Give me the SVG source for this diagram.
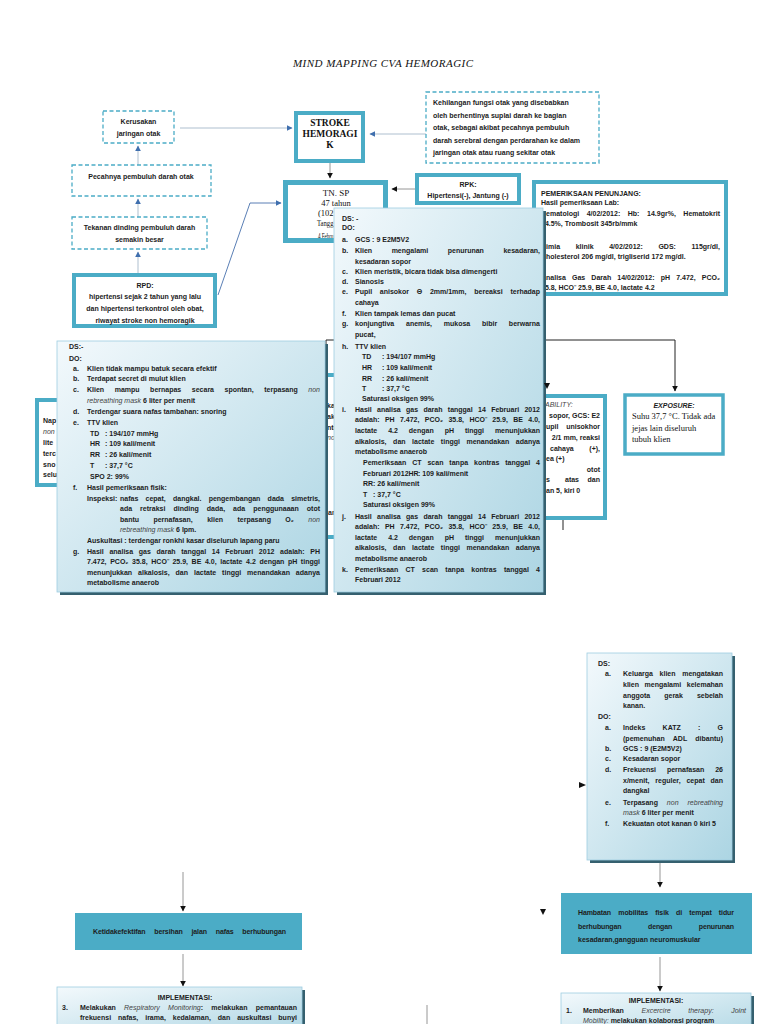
<svg xmlns="http://www.w3.org/2000/svg" width="768" height="1024" viewBox="0 0 768 1024">
<defs>
<linearGradient id="g" x1="0" y1="0" x2="1" y2="1"><stop offset="0" stop-color="#f3f9fc"/><stop offset="1" stop-color="#acd5e3"/></linearGradient>
<marker id="ab" viewBox="0 0 10 10" refX="9" refY="5" markerWidth="6" markerHeight="6" markerUnits="userSpaceOnUse" orient="auto"><path d="M0,0 L10,5 L0,10 z" fill="#3f6fae"/></marker>
<marker id="ak" viewBox="0 0 10 10" refX="9" refY="5" markerWidth="6" markerHeight="6" markerUnits="userSpaceOnUse" orient="auto"><path d="M0,0 L10,5 L0,10 z" fill="#111"/></marker>
</defs>
<style>
.t{font-family:"Liberation Sans",Arial,sans-serif;font-size:7px;font-weight:bold;fill:#1c1c1c}
.i{font-style:italic;font-weight:normal;fill:#444}
.sf{font-family:"Liberation Serif","Times New Roman",serif;font-weight:normal;fill:#111}
.b{font-weight:bold}
.c{text-anchor:middle}
.e{text-anchor:end}
.dash{fill:#fff;stroke:#4BACC6;stroke-width:1.3;stroke-dasharray:4 2.5}
.thick{fill:#fff;stroke:#4BACC6;stroke-width:4}
.card{fill:url(#g);stroke:#9fcde0;stroke-width:.8}
.sh{fill:#35606f}
.teal{fill:#4BACC6}
.lb{fill:none;stroke:#aebfcf;stroke-width:1}
.lk{fill:none;stroke:#8a8a8a;stroke-width:.9}
.ld{fill:none;stroke:#222;stroke-width:1}
</style>
<rect width="768" height="1024" fill="#fff"/>
<text x="383" y="67" class="sf c" font-style="italic" font-size="11" textLength="180">MIND MAPPING CVA HEMORAGIC</text>

<g id="connectors">
<path class="lb" d="M180 128 H292" marker-end="url(#ab)"/>
<path class="lb" d="M426 134 H370" marker-end="url(#ab)"/>
<path class="lk" d="M330 163 V178" marker-end="url(#ak)"/>
<path class="lb" d="M138 165 V146" marker-end="url(#ab)"/>
<path class="lb" d="M138 217 V199" marker-end="url(#ab)"/>
<path class="lb" d="M138 273 V252" marker-end="url(#ab)"/>
<path fill="none" stroke="#5a7fb5" stroke-width="1" d="M218 295 L250 203 H281" marker-end="url(#ab)"/>
<path class="lk" d="M415 189 H392" marker-end="url(#ak)"/>
<path class="ld" d="M326 372 V340 H675 V391" marker-end="url(#ak)"/>
<path class="ld" d="M563 492 V530"/>
<path fill="#111" d="M579 782 L586 785 L579 788 z"/>
<path class="lk" d="M660 862 V887" marker-end="url(#ak)"/>
<path class="lk" d="M660 957 V991" marker-end="url(#ak)"/>
<path class="lk" d="M183 872 V911" marker-end="url(#ak)"/>
<path class="lk" d="M183 954 V986" marker-end="url(#ak)"/>
<path fill="#111" d="M540 909 L546 909 L543 915 z"/>
<path class="lk" d="M427 1005 V1024"/>
</g>

<g id="kerusakan">
<rect class="dash" x="103" y="111" width="71" height="32"/>
<text class="t c" x="138.5" y="124" font-size="6.8">Kerusakan</text>
<text class="t c" x="138.5" y="136" font-size="6.8">jaringan otak</text>
</g>

<g id="stroke">
<rect class="thick" x="296" y="113" width="67" height="48"/>
<text class="sf b c" x="330" y="125.5" font-size="9.5">STROKE</text>
<text class="sf b c" x="330" y="136.5" font-size="9.5">HEMORAGI</text>
<text class="sf b c" x="330" y="147.5" font-size="9.5">K</text>
</g>

<g id="definisi">
<rect class="dash" x="426" y="92" width="173" height="71"/>
<text class="t" x="433" y="105">Kehilangan fungsi otak yang disebabkan</text>
<text class="t" x="433" y="117.5">oleh berhentinya suplai darah ke bagian</text>
<text class="t" x="433" y="130">otak, sebagai akibat pecahnya pembuluh</text>
<text class="t" x="433" y="142.5">darah serebral dengan perdarahan ke dalam</text>
<text class="t" x="433" y="155">jaringan otak atau ruang sekitar otak</text>
</g>

<g id="pecahnya">
<rect class="dash" x="72" y="165" width="139" height="31"/>
<text class="t c" x="141" y="179" font-size="6.8">Pecahnya pembuluh darah otak</text>
</g>

<g id="tekanan">
<rect class="dash" x="72" y="217" width="135" height="32"/>
<text class="t c" x="139.5" y="229.5" font-size="6.8">Tekanan dinding pembuluh darah</text>
<text class="t c" x="139.5" y="241.5" font-size="6.8">semakin besar</text>
</g>

<g id="rpd">
<rect class="thick" x="74" y="275" width="141" height="51"/>
<text class="t c" x="145" y="287.5" font-size="6.8">RPD:</text>
<text class="t c" x="145" y="298.5" font-size="6.8">hipertensi sejak 2 tahun yang lalu</text>
<text class="t c" x="145" y="310.5" font-size="6.8">dan hipertensi terkontrol oleh obat,</text>
<text class="t c" x="145" y="322.5" font-size="6.8">riwayat stroke non hemoragik</text>
</g>

<g id="tnsp">
<rect x="285.5" y="182.5" width="100" height="58" fill="#fff"/>
<text class="sf c" x="336" y="196" font-size="9">TN. SP</text>
<text class="sf c" x="336" y="206" font-size="8.5">47 tahun</text>
<text class="sf" x="318" y="216" font-size="8.5">(102</text>
<text class="sf" x="317" y="226" font-size="7.5" textLength="16.5" lengthAdjust="spacingAndGlyphs">Tangg</text>
<text class="sf" x="318" y="238.5" font-size="7.5" textLength="15.5" lengthAdjust="spacingAndGlyphs">4 Febru</text>
<rect x="285.5" y="182.5" width="100" height="58" fill="none" stroke="#4BACC6" stroke-width="5"/>
</g>

<g id="rpk">
<rect class="thick" x="417" y="175" width="102" height="28"/>
<text class="t c" x="468" y="186.5" font-size="6.8">RPK:</text>
<text class="t c" x="468" y="197.5" font-size="6.8">Hipertensi(-), Jantung (-)</text>
</g>

<g id="penunjang">
<rect class="thick" x="534" y="182" width="192" height="112"/>
<text class="t" x="541" y="195.5">PEMERIKSAAN PENUNJANG:</text>
<text class="t" x="541" y="204.5">Hasil pemeriksaan Lab:</text>
<text class="t" x="541" y="215.5" textLength="179" style="word-spacing:5.6px">Hematologi 4/02/2012: Hb: 14.9gr%, Hematokrit</text>
<text class="t" x="541" y="225.5">44.5%, Trombosit 345rb/mmk</text>
<text class="t" x="541" y="248.5" textLength="179" style="word-spacing:13.6px">Kimia klinik 4/02/2012: GDS: 115gr/dl,</text>
<text class="t" x="541" y="258.5">Cholesterol 206 mg/dl, trigliserid 172 mg/dl.</text>
<text class="t" x="541" y="279.5" textLength="179" style="word-spacing:4.2px">Analisa Gas Darah 14/02/2012: pH 7.472, PCO₂</text>
<text class="t" x="541" y="289.5">35.8, HCO⁻ 25.9, BE 4.0, lactate 4.2</text>
</g>

<g id="hidden-left">
<rect class="thick" x="37" y="400" width="120" height="85"/>
<text class="t" x="43" y="423">Nap</text>
<text class="t i" x="43" y="434">non</text>
<text class="t" x="43" y="445">lite</text>
<text class="t" x="43" y="456">terc</text>
<text class="t" x="43" y="466.5">sno</text>
<text class="t" x="43" y="477">selu</text>
</g>

<g id="hidden-mid">
<rect class="thick" x="250" y="375" width="200" height="162"/>
<text class="t" x="327" y="407.5">kal</text>
<text class="t" x="327" y="418.5">aks</text>
<text class="t" x="327" y="429.5">ntr</text>
<text class="t i" x="327" y="439.5">nor</text>
<text class="t" x="328" y="514.5">an p</text>
</g>

<g id="disability">
<rect class="thick" x="452" y="396" width="153" height="122"/>
<text class="t i" x="545" y="406.5">ABILITY:</text>
<text class="t e" x="600" y="417.5">sopor, GCS: E2</text>
<text class="t" x="546" y="428.5">upil</text>
<text class="t e" x="600" y="428.5">unisokhor</text>
<text class="t e" x="600" y="439.5">2/1 mm, reaksi</text>
<text class="t" x="550" y="450.5">cahaya</text>
<text class="t e" x="600" y="450.5">(+),</text>
<text class="t" x="546" y="461">ea (+)</text>
<text class="t e" x="600" y="471.5">otot</text>
<text class="t" x="546" y="482">s</text>
<text class="t" x="565" y="482">atas</text>
<text class="t e" x="600" y="482">dan</text>
<text class="t" x="546" y="493">an 5, kiri 0</text>
</g>

<g id="exposure">
<rect x="625" y="395" width="98" height="59" fill="#fff" stroke="#4BACC6" stroke-width="3.5"/>
<text class="t c" x="674" y="407.5" font-size="9" font-style="italic">EXPOSURE:</text>
<text class="sf" x="632" y="419" font-size="8.5">Suhu 37,7 °C. Tidak ada</text>
<text class="sf" x="632" y="430.5" font-size="8.5">jejas lain diseluruh</text>
<text class="sf" x="632" y="442" font-size="8.5">tubuh klien</text>
</g>

<g id="ds-airway">
<rect class="sh" x="60" y="344" width="268" height="251"/>
<rect class="card" x="57" y="341" width="268" height="251"/>
<text class="t" x="69" y="348.5">DS:-</text>
<text class="t" x="69" y="360.5">DO:</text>
<text class="t" x="73" y="370.5">a.</text><text class="t" x="87" y="370.5">Klien tidak mampu batuk secara efektif</text>
<text class="t" x="73" y="380.5">b.</text><text class="t" x="87" y="380.5">Terdapat secret di mulut klien</text>
<text class="t" x="73" y="391.5">c.</text><text class="t" x="87" y="391.5" textLength="233" style="word-spacing:8.6px">Klien mampu bernapas secara spontan, terpasang <tspan class="i">non</tspan></text>
<text class="t" x="87" y="402.5"><tspan class="i">rebreathing mask</tspan> 6 liter per menit</text>
<text class="t" x="73" y="414">d.</text><text class="t" x="87" y="414">Terdengar suara nafas tambahan: snoring</text>
<text class="t" x="73" y="424.5">e.</text><text class="t" x="87" y="424.5">TTV klien</text>
<text class="t" x="90" y="435.5">TD</text><text class="t" x="105" y="435.5">: 194/107 mmHg</text>
<text class="t" x="90" y="445.5">HR</text><text class="t" x="105" y="445.5">: 109 kali/menit</text>
<text class="t" x="90" y="456.5">RR</text><text class="t" x="105" y="456.5">: 26 kali/menit</text>
<text class="t" x="90" y="467.5">T</text><text class="t" x="105" y="467.5">: 37,7 °C</text>
<text class="t" x="90" y="479">SPO 2: 99%</text>
<text class="t" x="73" y="489.5">f.</text><text class="t" x="87" y="489.5">Hasil pemeriksaan fisik:</text>
<text class="t" x="87" y="500.5">Inspeksi</text><text class="t" x="115" y="500.5">:</text>
<text class="t" x="120" y="500.5" textLength="200" style="word-spacing:5.3px">nafas cepat, dangkal. pengembangan dada simetris,</text>
<text class="t" x="120" y="511" textLength="200" style="word-spacing:6.1px">ada retraksi dinding dada, ada penggunaaan otot</text>
<text class="t" x="120" y="521.5" textLength="200" style="word-spacing:12.5px">bantu pernafasan, klien terpasang O₂ <tspan class="i">non</tspan></text>
<text class="t" x="120" y="532"><tspan class="i">rebreathing mask</tspan> 6 lpm.</text>
<text class="t" x="87" y="542.5">Auskultasi : terdengar ronkhi kasar diseluruh lapang paru</text>
<text class="t" x="73" y="553.5">g.</text><text class="t" x="87" y="553.5" textLength="233" style="word-spacing:3.7px">Hasil analisa gas darah tanggal 14 Februari 2012 adalah: PH</text>
<text class="t" x="87" y="564" textLength="233" style="word-spacing:1.6px">7.472, PCO₂ 35.8, HCO⁻ 25.9, BE 4.0, lactate 4.2 dengan pH tinggi</text>
<text class="t" x="87" y="574.5" textLength="233" style="word-spacing:4px">menunjukkan alkalosis, dan lactate tinggi menandakan adanya</text>
<text class="t" x="87" y="584.5">metabolisme anaerob</text>
</g>

<g id="ds-main">
<rect class="sh" x="337" y="211" width="209" height="384"/>
<rect class="card" x="334" y="208" width="209" height="384"/>
<text class="t" x="342" y="221">DS: -</text>
<text class="t" x="342" y="230">DO:</text>
<text class="t" x="342" y="241.5">a.</text><text class="t" x="355" y="241.5">GCS : 9 E2M5V2</text>
<text class="t" x="342" y="252.5">b.</text><text class="t" x="355" y="252.5" textLength="185" style="word-spacing:17.6px">Klien mengalami penurunan kesadaran,</text>
<text class="t" x="355" y="263.5">kesadaran sopor</text>
<text class="t" x="342" y="273.5">c.</text><text class="t" x="355" y="273.5">Klien meristik, bicara tidak bisa dimengerti</text>
<text class="t" x="342" y="283.5">d.</text><text class="t" x="355" y="283.5">Sianosis</text>
<text class="t" x="342" y="293.5">e.</text><text class="t" x="355" y="293.5" textLength="185" style="word-spacing:5.8px">Pupil anisokor Θ 2mm/1mm, bereaksi terhadap</text>
<text class="t" x="355" y="304.5">cahaya</text>
<text class="t" x="342" y="315.5">f.</text><text class="t" x="355" y="315.5">Klien tampak lemas dan pucat</text>
<text class="t" x="342" y="325.5">g.</text><text class="t" x="355" y="325.5" textLength="185" style="word-spacing:9.8px">konjungtiva anemis, mukosa bibir berwarna</text>
<text class="t" x="355" y="336.5">pucat,</text>
<text class="t" x="342" y="348.5">h.</text><text class="t" x="355" y="348.5">TTV klien</text>
<text class="t" x="362" y="358.5">TD</text><text class="t" x="382" y="358.5">: 194/107 mmHg</text>
<text class="t" x="362" y="369.5">HR</text><text class="t" x="382" y="369.5">: 109 kali/menit</text>
<text class="t" x="362" y="380.5">RR</text><text class="t" x="382" y="380.5">: 26 kali/menit</text>
<text class="t" x="362" y="390.5">T</text><text class="t" x="382" y="390.5">: 37,7 °C</text>
<text class="t" x="362" y="400.5">Saturasi oksigen 99%</text>
<text class="t" x="342" y="411.5">i.</text><text class="t" x="355" y="411.5" textLength="185" style="word-spacing:3.4px">Hasil analisa gas darah tanggal 14 Februari 2012</text>
<text class="t" x="355" y="421.5" textLength="185" style="word-spacing:3.4px">adalah: PH 7.472, PCO₂ 35.8, HCO⁻ 25.9, BE 4.0,</text>
<text class="t" x="355" y="432.5" textLength="185" style="word-spacing:9px">lactate 4.2 dengan pH tinggi menunjukkan</text>
<text class="t" x="355" y="443.5" textLength="185" style="word-spacing:4.6px">alkalosis, dan lactate tinggi menandakan adanya</text>
<text class="t" x="355" y="453.5">metabolisme anaerob</text>
<text class="t" x="363" y="464.5" textLength="177" style="word-spacing:4px">Pemeriksaan CT scan tanpa kontras tanggal 4</text>
<text class="t" x="363" y="475.5">Februari 2012HR</text><text class="t" x="418" y="475.5">: 109 kali/menit</text>
<text class="t" x="363" y="485.5">RR</text><text class="t" x="373" y="485.5">: 26 kali/menit</text>
<text class="t" x="363" y="496.5">T</text><text class="t" x="373" y="496.5">: 37,7 °C</text>
<text class="t" x="363" y="506.5">Saturasi oksigen 99%</text>
<text class="t" x="342" y="518.5">j.</text><text class="t" x="355" y="518.5" textLength="185" style="word-spacing:3.4px">Hasil analisa gas darah tanggal 14 Februari 2012</text>
<text class="t" x="355" y="528.5" textLength="185" style="word-spacing:3.4px">adalah: PH 7.472, PCO₂ 35.8, HCO⁻ 25.9, BE 4.0,</text>
<text class="t" x="355" y="539.5" textLength="185" style="word-spacing:9px">lactate 4.2 dengan pH tinggi menunjukkan</text>
<text class="t" x="355" y="549.5" textLength="185" style="word-spacing:4.6px">alkalosis, dan lactate tinggi menandakan adanya</text>
<text class="t" x="355" y="560.5">metabolisme anaerob</text>
<text class="t" x="342" y="571.5">k.</text><text class="t" x="355" y="571.5" textLength="185" style="word-spacing:5.3px">Pemeriksaan CT scan tanpa kontras tanggal 4</text>
<text class="t" x="355" y="581.5">Februari 2012</text>
</g>
<path fill="#111" d="M544 383 L550 383 L547 389 z"/>

<g id="ds-mobilitas">
<rect class="sh" x="590" y="656" width="145" height="207"/>
<rect class="card" x="587" y="653" width="145" height="207"/>
<text class="t" x="598" y="665.5">DS:</text>
<text class="t" x="605" y="675.5">a.</text><text class="t" x="623" y="675.5" textLength="100" style="word-spacing:4.7px">Keluarga klien mengatakan</text>
<text class="t" x="623" y="686.5" textLength="100" style="word-spacing:3.7px">klien mengalami kelemahan</text>
<text class="t" x="623" y="697.5" textLength="100" style="word-spacing:12px">anggota gerak sebelah</text>
<text class="t" x="623" y="707.5">kanan.</text>
<text class="t" x="598" y="718.5">DO:</text>
<text class="t" x="605" y="729.5">a.</text><text class="t" x="623" y="729.5" textLength="100" style="word-spacing:15.2px">Indeks KATZ : G</text>
<text class="t" x="623" y="740.5" textLength="100" style="word-spacing:6.2px">(pemenuhan ADL dibantu)</text>
<text class="t" x="605" y="750.5">b.</text><text class="t" x="623" y="750.5">GCS : 9 (E2M5V2)</text>
<text class="t" x="605" y="760.5">c.</text><text class="t" x="623" y="760.5">Kesadaran sopor</text>
<text class="t" x="605" y="771.5">d.</text><text class="t" x="623" y="771.5" textLength="100" style="word-spacing:9px">Frekuensi pernafasan 26</text>
<text class="t" x="623" y="782.5" textLength="100" style="word-spacing:3.8px">x/menit, reguler, cepat dan</text>
<text class="t" x="623" y="792.5">dangkal</text>
<text class="t" x="605" y="804.5">e.</text><text class="t" x="623" y="804.5" textLength="100" style="word-spacing:7px">Terpasang <tspan class="i">non rebreathing</tspan></text>
<text class="t" x="623" y="814.5"><tspan class="i">mask</tspan> 6 liter per menit</text>
<text class="t" x="605" y="825.5">f.</text><text class="t" x="623" y="825.5">Kekuatan otot kanan 0 kiri 5</text>
</g>

<g id="dx-jalan-nafas">
<rect class="teal" x="75" y="913" width="227" height="37"/>
<text class="t" x="93" y="933.5" textLength="193" font-size="6.8" style="word-spacing:7px">Ketidakefektifan bersihan jalan nafas berhubungan</text>
</g>

<g id="dx-mobilitas">
<rect class="teal" x="561" y="893" width="191" height="61"/>
<text class="t" x="578" y="914.5" textLength="156" font-size="6.8" style="word-spacing:5.4px">Hambatan mobilitas fisik di tempat tidur</text>
<text class="t" x="578" y="928.5" textLength="156" font-size="6.8" style="word-spacing:24.7px">berhubungan dengan penurunan</text>
<text class="t" x="578" y="941.5" font-size="6.8">kesadaran,gangguan neuromuskular</text>
</g>

<g id="impl-left">
<rect class="sh" x="60" y="990" width="245" height="50"/>
<rect class="card" x="57" y="987" width="245" height="50"/>
<text class="t c" x="185" y="999.5">IMPLEMENTASI:</text>
<text class="t" x="62" y="1009.5">3.</text>
<text class="t" x="80" y="1009.5" textLength="217" style="word-spacing:6.3px">Melakukan <tspan class="i">Respiratory Monitoring</tspan>: melakukan pemantauan</text>
<text class="t" x="80" y="1019.5" textLength="217" style="word-spacing:5px">frekuensi nafas, irama, kedalaman, dan auskultasi bunyi</text>
</g>

<g id="impl-right">
<rect class="sh" x="564" y="996" width="190" height="50"/>
<rect class="card" x="561" y="993" width="190" height="50"/>
<text class="t c" x="656" y="1003">IMPLEMENTASI:</text>
<text class="t" x="566" y="1013">1.</text>
<text class="t" x="583" y="1013" textLength="163" style="word-spacing:15.7px">Memberikan <tspan class="i">Excercire therapy: Joint</tspan></text>
<text class="t" x="583" y="1022.5"><tspan class="i">Mobility:</tspan> melakukan kolaborasi program</text>
</g>
</svg>
